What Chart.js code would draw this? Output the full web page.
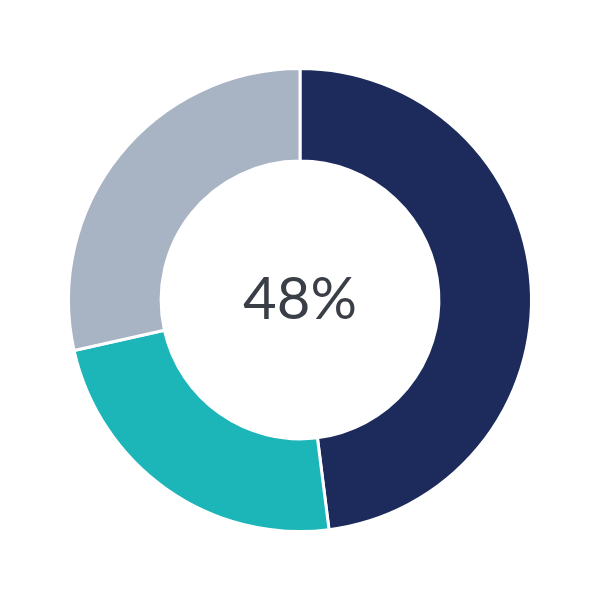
<!DOCTYPE html>
<html>
<head>
<meta charset="utf-8">
<script src="https://cdn.jsdelivr.net/npm/chart.js@4"></script>
<style>
  html, body { margin: 0; padding: 0; background: #ffffff; }
  #wrap { width: 600px; height: 600px; }
</style>
</head>
<body>
<div id="wrap"><canvas id="grafico"></canvas></div>
<script>
const etiquetas = ['A', 'B', 'C'];
const valores = [48, 23.5, 28.5];
const colores = ['#1c2b5b', '#1cb5b8', '#a8b3c3'];
const textoCentro = '48%';

// texto en el centro del anillo
const centroTexto = {
    id: 'centroTexto',
    afterDraw(chart) {
        const meta = chart.getDatasetMeta(0).data[0];
        const ctx = chart.ctx;
        ctx.save();
        ctx.font = '400 58px Lato, "Open Sans", sans-serif';
        ctx.fillStyle = '#3a3f47';
        ctx.textAlign = 'center';
        ctx.textBaseline = 'middle';
        ctx.fillText(textoCentro, meta.x, meta.y);
        ctx.restore();
    }
};

new Chart(document.getElementById('grafico'), {
    type: 'doughnut',
    data: {
        labels: etiquetas,
        datasets: [{
            data: valores,
            backgroundColor: colores,
            borderColor: '#ffffff',
            borderWidth: 3
        }]
    },
    options: {
        responsive: true,
        maintainAspectRatio: false,
        animation: false,
        cutout: '60%',
        layout: { padding: 67 },
        plugins: {
            legend: { display: false },
            tooltip: { enabled: false }
        }
    },
    plugins: [centroTexto]
});
</script>
</body>
</html>
